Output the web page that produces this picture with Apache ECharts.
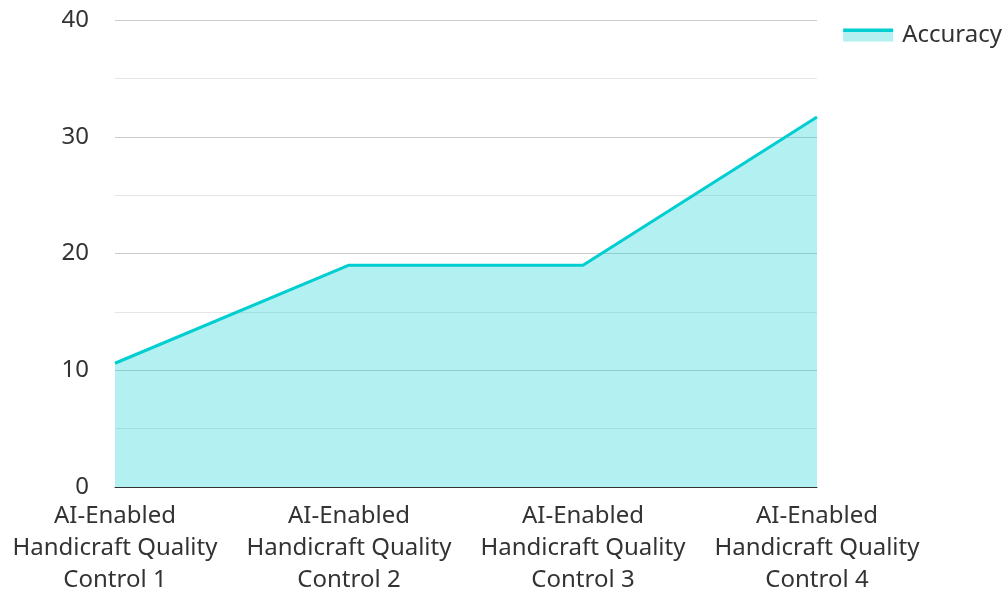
<!DOCTYPE html>
<html>
<head>
<meta charset="utf-8">
<script src="https://cdn.jsdelivr.net/npm/echarts@6/dist/echarts.min.js"></script>
<style>
  html, body { margin: 0; padding: 0; background: #fff; }
  #chart { width: 1007px; height: 592px; }
</style>
</head>
<body>
<div id="chart"></div>
<script>
// categories on the x axis
const categories = [
  "AI-Enabled\nHandicraft Quality\nControl 1",
  "AI-Enabled\nHandicraft Quality\nControl 2",
  "AI-Enabled\nHandicraft Quality\nControl 3",
  "AI-Enabled\nHandicraft Quality\nControl 4"
];
// accuracy values
const accuracy = [10.6, 19, 19, 31.7];
const seriesName = "Accuracy";

const chart = echarts.init(document.getElementById("chart"));
const font = "'Noto Sans', 'Open Sans', sans-serif";

// legend icon: dark line on top of the light area colour
const legendIconColor = new echarts.graphic.LinearGradient(0, 0, 0, 1, [
  { offset: 0, color: "#00CED1" },
  { offset: 0.27, color: "#00CED1" },
  { offset: 0.27, color: "#B2F0F1" },
  { offset: 1, color: "#B2F0F1" }
]);

chart.setOption({
  textStyle: { fontFamily: font },
  grid: { left: 115, right: 190, top: 20, bottom: 105, outerBoundsMode: "none", containLabel: false },
  legend: {
    right: 0,
    top: 18,
    itemWidth: 50,
    itemHeight: 13,
    icon: "rect",
    itemStyle: { color: legendIconColor, borderWidth: 0 },
    textStyle: { fontSize: 24, color: "#333", fontFamily: font, padding: [0, 0, 6, 4] },
    data: [seriesName]
  },
  xAxis: {
    type: "category",
    data: categories,
    boundaryGap: false,
    axisLine: { lineStyle: { color: "#333" } },
    axisTick: { show: false },
    axisLabel: { interval: 0, fontSize: 24, color: "#333", lineHeight: 32, margin: 13, fontFamily: font }
  },
  yAxis: {
    type: "value",
    min: 0,
    max: 40,
    interval: 10,
    axisLine: { show: false },
    axisTick: { show: false },
    axisLabel: { fontSize: 24, color: "#333", margin: 26, fontFamily: font },
    splitLine: { lineStyle: { color: "#ccc", width: 1 } },
    minorTick: { show: false, splitNumber: 2 },
    minorSplitLine: { show: true, lineStyle: { color: "#e6e6e6", width: 1 } }
  },
  series: [
    {
      name: seriesName,
      type: "line",
      data: accuracy,
      symbol: "none",
      lineStyle: { color: "#00CED1", width: 3 },
      itemStyle: { color: "#00CED1" },
      areaStyle: { color: "#00CED1", opacity: 0.3 }
    }
  ]
});
</script>
</body>
</html>
